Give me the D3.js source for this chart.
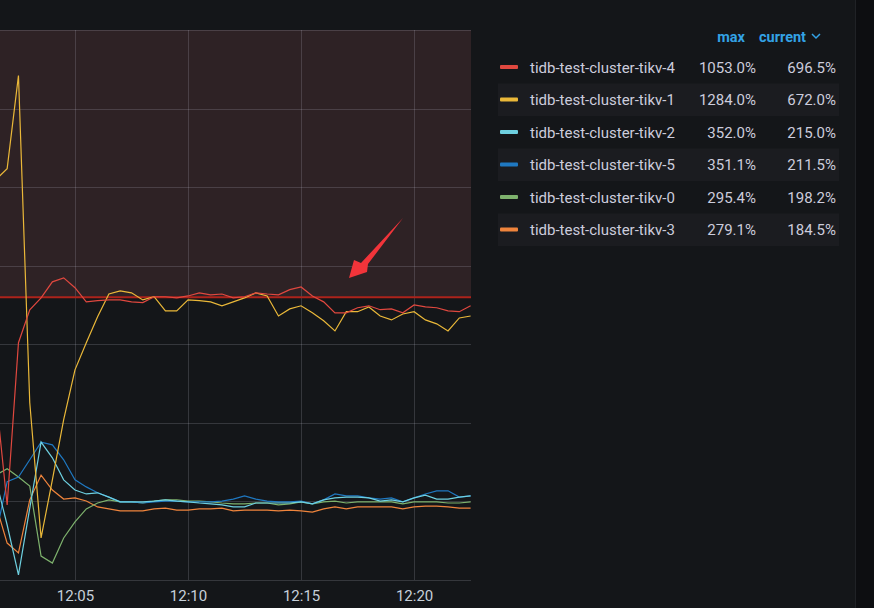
<!DOCTYPE html>
<html lang="en">
<head>
  <meta charset="UTF-8" />
  <title>TiKV CPU</title>
  <script src="https://d3js.org/d3.v7.min.js"></script>
  <style>
    body { margin: 0; background: #141619; font-family: Roboto, "Open Sans", sans-serif; }
    svg { display: block; }
  </style>
</head>
<body>
  <svg id="chart" width="874" height="608"></svg>

  <script>
    // samples every 30s, 12:01:30 .. 12:22:30
    const START = new Date(2021, 0, 1, 12, 1, 30);
    const STEP_SEC = 30;

    const names = ["tidb-test-cluster-tikv-4", "tidb-test-cluster-tikv-1", "tidb-test-cluster-tikv-2",
                   "tidb-test-cluster-tikv-5", "tidb-test-cluster-tikv-0", "tidb-test-cluster-tikv-3"];
    const colors = ["#e0483f", "#eab839", "#6ed0e0", "#1f78c1", "#7eb26d", "#ef843c"];
    const maxLabels = ["1053.0%", "1284.0%", "352.0%", "351.1%", "295.4%", "279.1%"];
    const currentLabels = ["696.5%", "672.0%", "215.0%", "211.5%", "198.2%", "184.5%"];

    const tikv4 = [471, 191, 604, 688, 718, 759, 769, 744, 708, 711, 713, 713, 708, 706, 721, 721, 718, 723, 731, 726,
                   728, 718, 721, 731, 728, 726, 739, 746, 723, 708, 680, 680, 693, 698, 688, 690, 680, 700, 695, 693,
                   685, 683, 698];
    const tikv1 = [1019, 1047, 1284, 451, 107, 255, 408, 535, 604, 670, 728, 736, 731, 713, 721, 685, 685, 713, 711, 708,
                   698, 708, 718, 731, 723, 672, 690, 698, 680, 660, 634, 683, 683, 695, 672, 662, 677, 683, 662, 652,
                   634, 667, 672];
    const tikv2 = [255, 140, 13, 183, 351, 311, 255, 229, 219, 222, 211, 199, 199, 199, 201, 204, 201, 199, 196, 194,
                   191, 186, 186, 196, 196, 196, 196, 199, 194, 204, 209, 211, 211, 209, 201, 204, 199, 209, 216, 206,
                   206, 211, 214];
    const tikv5 = [115, 250, 262, 306, 351, 344, 306, 255, 237, 222, 211, 199, 199, 196, 199, 201, 201, 199, 199, 199,
                   201, 206, 214, 206, 201, 199, 199, 201, 194, 204, 219, 214, 214, 209, 206, 209, 199, 209, 219, 227,
                   227, 211, 214];
    const tikv0 = [267, 283, 262, 239, 61, 43, 107, 148, 181, 196, 204, 199, 199, 196, 201, 204, 204, 201, 201, 199,
                   196, 194, 194, 196, 196, 191, 194, 199, 194, 199, 201, 196, 199, 199, 199, 199, 194, 199, 199, 199,
                   196, 196, 199];
    const tikv3 = [191, 94, 69, 204, 267, 229, 206, 209, 201, 186, 181, 176, 176, 176, 181, 183, 178, 178, 181, 181,
                   183, 176, 178, 178, 178, 176, 178, 176, 173, 181, 186, 181, 186, 186, 186, 186, 181, 186, 188, 188,
                   186, 183, 183];
    const seriesValues = [tikv4, tikv1, tikv2, tikv5, tikv0, tikv3];

    const THRESHOLD = 720;
    const Y_MAX = 1400;
    const yTicks = [0, 200, 400, 600, 800, 1000, 1200, 1400];
    const xTicks = [[12, 5], [12, 10], [12, 15], [12, 20]];

    const svg = d3.select("#chart");
    const plot = { left: 0, right: 471, top: 30, bottom: 580 };

    const x = d3.scaleTime()
      .domain([new Date(2021, 0, 1, 12, 1, 41), new Date(2021, 0, 1, 12, 22, 31)])
      .range([plot.left, plot.right]);
    const y = d3.scaleLinear().domain([0, Y_MAX]).range([plot.bottom, plot.top]);

    // right side strip
    svg.append("rect").attr("x", 855).attr("y", 0).attr("width", 19).attr("height", 608).attr("fill", "#0d0e11");
    svg.append("line").attr("x1", 855.5).attr("x2", 855.5).attr("y1", 0).attr("y2", 608)
      .attr("stroke", "#202226");

    // threshold region
    svg.append("rect")
      .attr("x", plot.left).attr("width", plot.right - plot.left)
      .attr("y", y(Y_MAX)).attr("height", y(THRESHOLD) - y(Y_MAX))
      .attr("fill", "#2e2225");

    // grid
    svg.append("g")
      .selectAll("line").data(yTicks).join("line")
      .attr("x1", plot.left).attr("x2", plot.right)
      .attr("y1", d => Math.round(y(d)) + 0.5).attr("y2", d => Math.round(y(d)) + 0.5)
      .attr("stroke", "rgba(204,204,220,0.18)");
    const tickDates = xTicks.map(t => new Date(2021, 0, 1, t[0], t[1]));
    svg.append("g")
      .selectAll("line").data(tickDates).join("line")
      .attr("x1", d => Math.round(x(d)) + 0.5).attr("x2", d => Math.round(x(d)) + 0.5)
      .attr("y1", plot.top).attr("y2", plot.bottom)
      .attr("stroke", "rgba(204,204,220,0.18)");

    // x axis labels
    const xAxis = svg.append("g")
      .attr("transform", `translate(0,${plot.bottom})`)
      .call(d3.axisBottom(x).tickValues(tickDates).tickFormat(d3.timeFormat("%H:%M")).tickSize(0).tickPadding(10));
    xAxis.select(".domain").remove();
    xAxis.selectAll("text").attr("fill", "#c7d0d9").attr("font-size", "15px")
      .attr("font-family", "Roboto, sans-serif");

    // threshold line
    svg.append("line")
      .attr("x1", plot.left).attr("x2", plot.right)
      .attr("y1", y(THRESHOLD)).attr("y2", y(THRESHOLD))
      .attr("stroke", "#ad231b").attr("stroke-width", 2);

    // series
    svg.append("clipPath").attr("id", "clip").append("rect")
      .attr("x", plot.left).attr("y", plot.top)
      .attr("width", plot.right - plot.left).attr("height", plot.bottom - plot.top);

    const line = d3.line()
      .x((d, i) => x(new Date(START.getTime() + i * STEP_SEC * 1000)))
      .y(d => y(d));

    const drawOrder = [5, 4, 3, 2, 1, 0];
    svg.append("g").attr("clip-path", "url(#clip)")
      .selectAll("path").data(drawOrder).join("path")
      .attr("d", i => line(seriesValues[i]))
      .attr("fill", "none")
      .attr("stroke", i => colors[i])
      .attr("stroke-width", 1.2);

    // annotation arrow
    svg.append("path")
      .attr("d", "M403,218 L368,264 L367,272 L349,278 L354,260 L361,263 Z")
      .attr("fill", "#f2343a");

    // legend
    const lg = svg.append("g");
    lg.append("text").attr("x", 745).attr("y", 42).attr("text-anchor", "end")
      .attr("fill", "#33a2e5").attr("font-size", "14.5px").attr("font-weight", "bold").text("max");
    lg.append("text").attr("x", 806).attr("y", 42).attr("text-anchor", "end")
      .attr("fill", "#33a2e5").attr("font-size", "14.5px").attr("font-weight", "bold").text("current");
    lg.append("path").attr("d", "M812,34 L816,38 L820,34")
      .attr("fill", "none").attr("stroke", "#33a2e5").attr("stroke-width", 1.5);

    const rowH = 32.5;
    const rows = lg.selectAll("g.row").data(names).join("g")
      .attr("transform", (d, i) => `translate(0,${51 + i * rowH})`);
    rows.filter((d, i) => i % 2 === 1).append("rect")
      .attr("x", 498).attr("y", 0).attr("width", 341).attr("height", rowH)
      .attr("fill", "#1b1c20");
    rows.append("rect").attr("x", 500).attr("y", 14).attr("width", 18).attr("height", 4).attr("rx", 1)
      .attr("fill", (d, i) => colors[i]);
    rows.append("text").attr("x", 530).attr("y", 21.5).attr("fill", "#ccccdc").attr("font-size", "15px").text(d => d);
    rows.append("text").attr("x", 756).attr("y", 21.5).attr("text-anchor", "end")
      .attr("fill", "#ccccdc").attr("font-size", "15px").text((d, i) => maxLabels[i]);
    rows.append("text").attr("x", 836).attr("y", 21.5).attr("text-anchor", "end")
      .attr("fill", "#ccccdc").attr("font-size", "15px").text((d, i) => currentLabels[i]);
  </script>
</body>
</html>
